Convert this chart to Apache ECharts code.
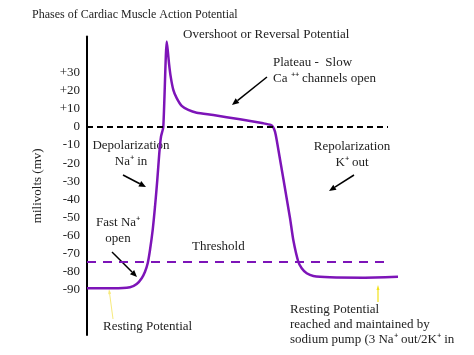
<!DOCTYPE html>
<html>
<head>
<meta charset="utf-8">
<script src="https://cdn.jsdelivr.net/npm/echarts@6/dist/echarts.min.js"></script>
<style>html,body{margin:0;padding:0;background:#fff}#c{width:474px;height:355px}</style>
</head>
<body>
<div id="c"></div>
<script>
// time (arbitrary units) and membrane potential (mV)
const timeVals = [0, 26.3, 43, 49.7, 54.7, 58, 60.7, 63, 65.7, 68, 70.3, 72.3, 74, 76.3, 79.7,
  80.7, 82, 83.7, 86.3, 89.7, 94.7, 101.3, 109.7, 126.3, 153, 176.3, 183.7, 186.3, 188, 189.7,
  203, 206.3, 211.3, 214.7, 219.7, 226.3, 243, 276, 311];
const mvVals = [-89.2, -89.2, -88.6, -86.8, -83.6, -80, -75.3, -68, -56.9, -44.1, -29.3, -14.5, -5.4, 0, 47.2,
  42.6, 35.2, 27.8, 20.5, 15.9, 11.6, 9.4, 7.9, 6.6, 4.2, 2.0, 1.1, -0.2, -2.6, -7.2,
  -50.3, -62.5, -74.5, -78.1, -80.9, -82.4, -83.1, -83.3, -82.8];
const yTickLabels = [30, 20, 10, 0, -10, -20, -30, -40, -50, -60, -70, -80, -90];
const zeroLevel = 0, zeroEnd = 301;
const thresholdLevel = -74.5, thresholdEnd = 298;

const FONT = "'Liberation Serif','Times New Roman',serif";
const PURPLE = '#7d14b8';

function arrow(x1, y1, x2, y2, color, w, hl, hw) {
  const dx = x2 - x1, dy = y2 - y1, L = Math.hypot(dx, dy), ux = dx / L, uy = dy / L;
  const bx = x2 - ux * hl, by = y2 - uy * hl;
  return [
    {type: 'line', silent: true, shape: {x1: x1, y1: y1, x2: bx, y2: by}, style: {stroke: color, lineWidth: w}},
    {type: 'polygon', silent: true, shape: {points: [[x2, y2], [bx - uy * hw / 2, by + ux * hw / 2], [bx + uy * hw / 2, by - ux * hw / 2]]}, style: {fill: color}}
  ];
}
function txt(x, y, text, size, align) {
  return {type: 'text', silent: true, x: x, y: y,
    style: {text: text, font: size + 'px ' + FONT, fill: '#222', align: align || 'left', verticalAlign: 'middle', lineHeight: 16}};
}

const chart = echarts.init(document.getElementById('c'), null, {renderer: 'canvas'});
chart.setOption({
  animation: false,
  backgroundColor: '#fff',
  grid: {left: 87, right: 7, top: 36.5, bottom: 20},
  xAxis: {type: 'value', min: 0, max: 380, show: false},
  yAxis: {
    type: 'value', min: -115, max: 50, interval: 5,
    name: 'milivolts (mv)', nameLocation: 'middle', nameGap: 43, nameRotate: 90,
    nameTextStyle: {fontFamily: FONT, fontSize: 13, color: '#222'},
    axisLine: {show: true, lineStyle: {color: '#000', width: 2}},
    axisTick: {show: false},
    splitLine: {show: false},
    axisLabel: {
      fontFamily: FONT, fontSize: 13, color: '#222', margin: 7,
      formatter: function (v) { return yTickLabels.indexOf(v) >= 0 ? (v > 0 ? '+' + v : '' + v) : ''; }
    }
  },
  series: [{
    type: 'line',
    data: timeVals.map((t, i) => [t, mvVals[i]]),
    smooth: 0.2,
    symbol: 'none',
    lineStyle: {color: PURPLE, width: 2.5},
    z: 3,
    markLine: {
      silent: true, symbol: 'none', label: {show: false},
      data: [
        [{coord: [0, zeroLevel], lineStyle: {color: '#000', width: 1.8, type: [6, 4]}}, {coord: [zeroEnd, zeroLevel]}],
        [{coord: [0, thresholdLevel], lineStyle: {color: PURPLE, width: 2, type: [9, 7]}}, {coord: [thresholdEnd, thresholdLevel]}]
      ]
    }
  }],
  graphic: [
    txt(32, 15, 'Phases of Cardiac Muscle Action Potential', 12),
    txt(183, 35, 'Overshoot or Reversal Potential', 13),
    txt(273, 63, 'Plateau -  Slow', 13),
    txt(273, 79, 'Ca \u207A\u207A channels open', 13),
    txt(131, 154, 'Depolarization\nNa\u207A in', 13, 'center'),
    txt(118, 231, 'Fast Na\u207A\nopen', 13, 'center'),
    txt(192, 247, 'Threshold', 13),
    txt(352, 155, 'Repolarization\nK\u207A out', 13, 'center'),
    txt(103, 327, 'Resting Potential', 13),
    txt(290, 310, 'Resting Potential', 13),
    txt(290, 325, 'reached and maintained by', 13),
    txt(290, 340, 'sodium pump (3 Na\u207A out/2K\u207A in', 13)
  ].concat(
    arrow(267, 77, 232, 105, '#000', 1.5, 7, 6),
    arrow(123, 175, 146, 187, '#000', 1.5, 7, 6),
    arrow(112, 252, 137, 277, '#000', 1.5, 7, 6),
    arrow(354, 175, 329, 191, '#000', 1.5, 7, 6),
    arrow(113, 319, 109, 289, '#f7ea7c', 1, 5, 3),
    arrow(378, 302, 378, 285, '#f2e21a', 1.2, 5, 3)
  )
});
</script>
</body>
</html>
